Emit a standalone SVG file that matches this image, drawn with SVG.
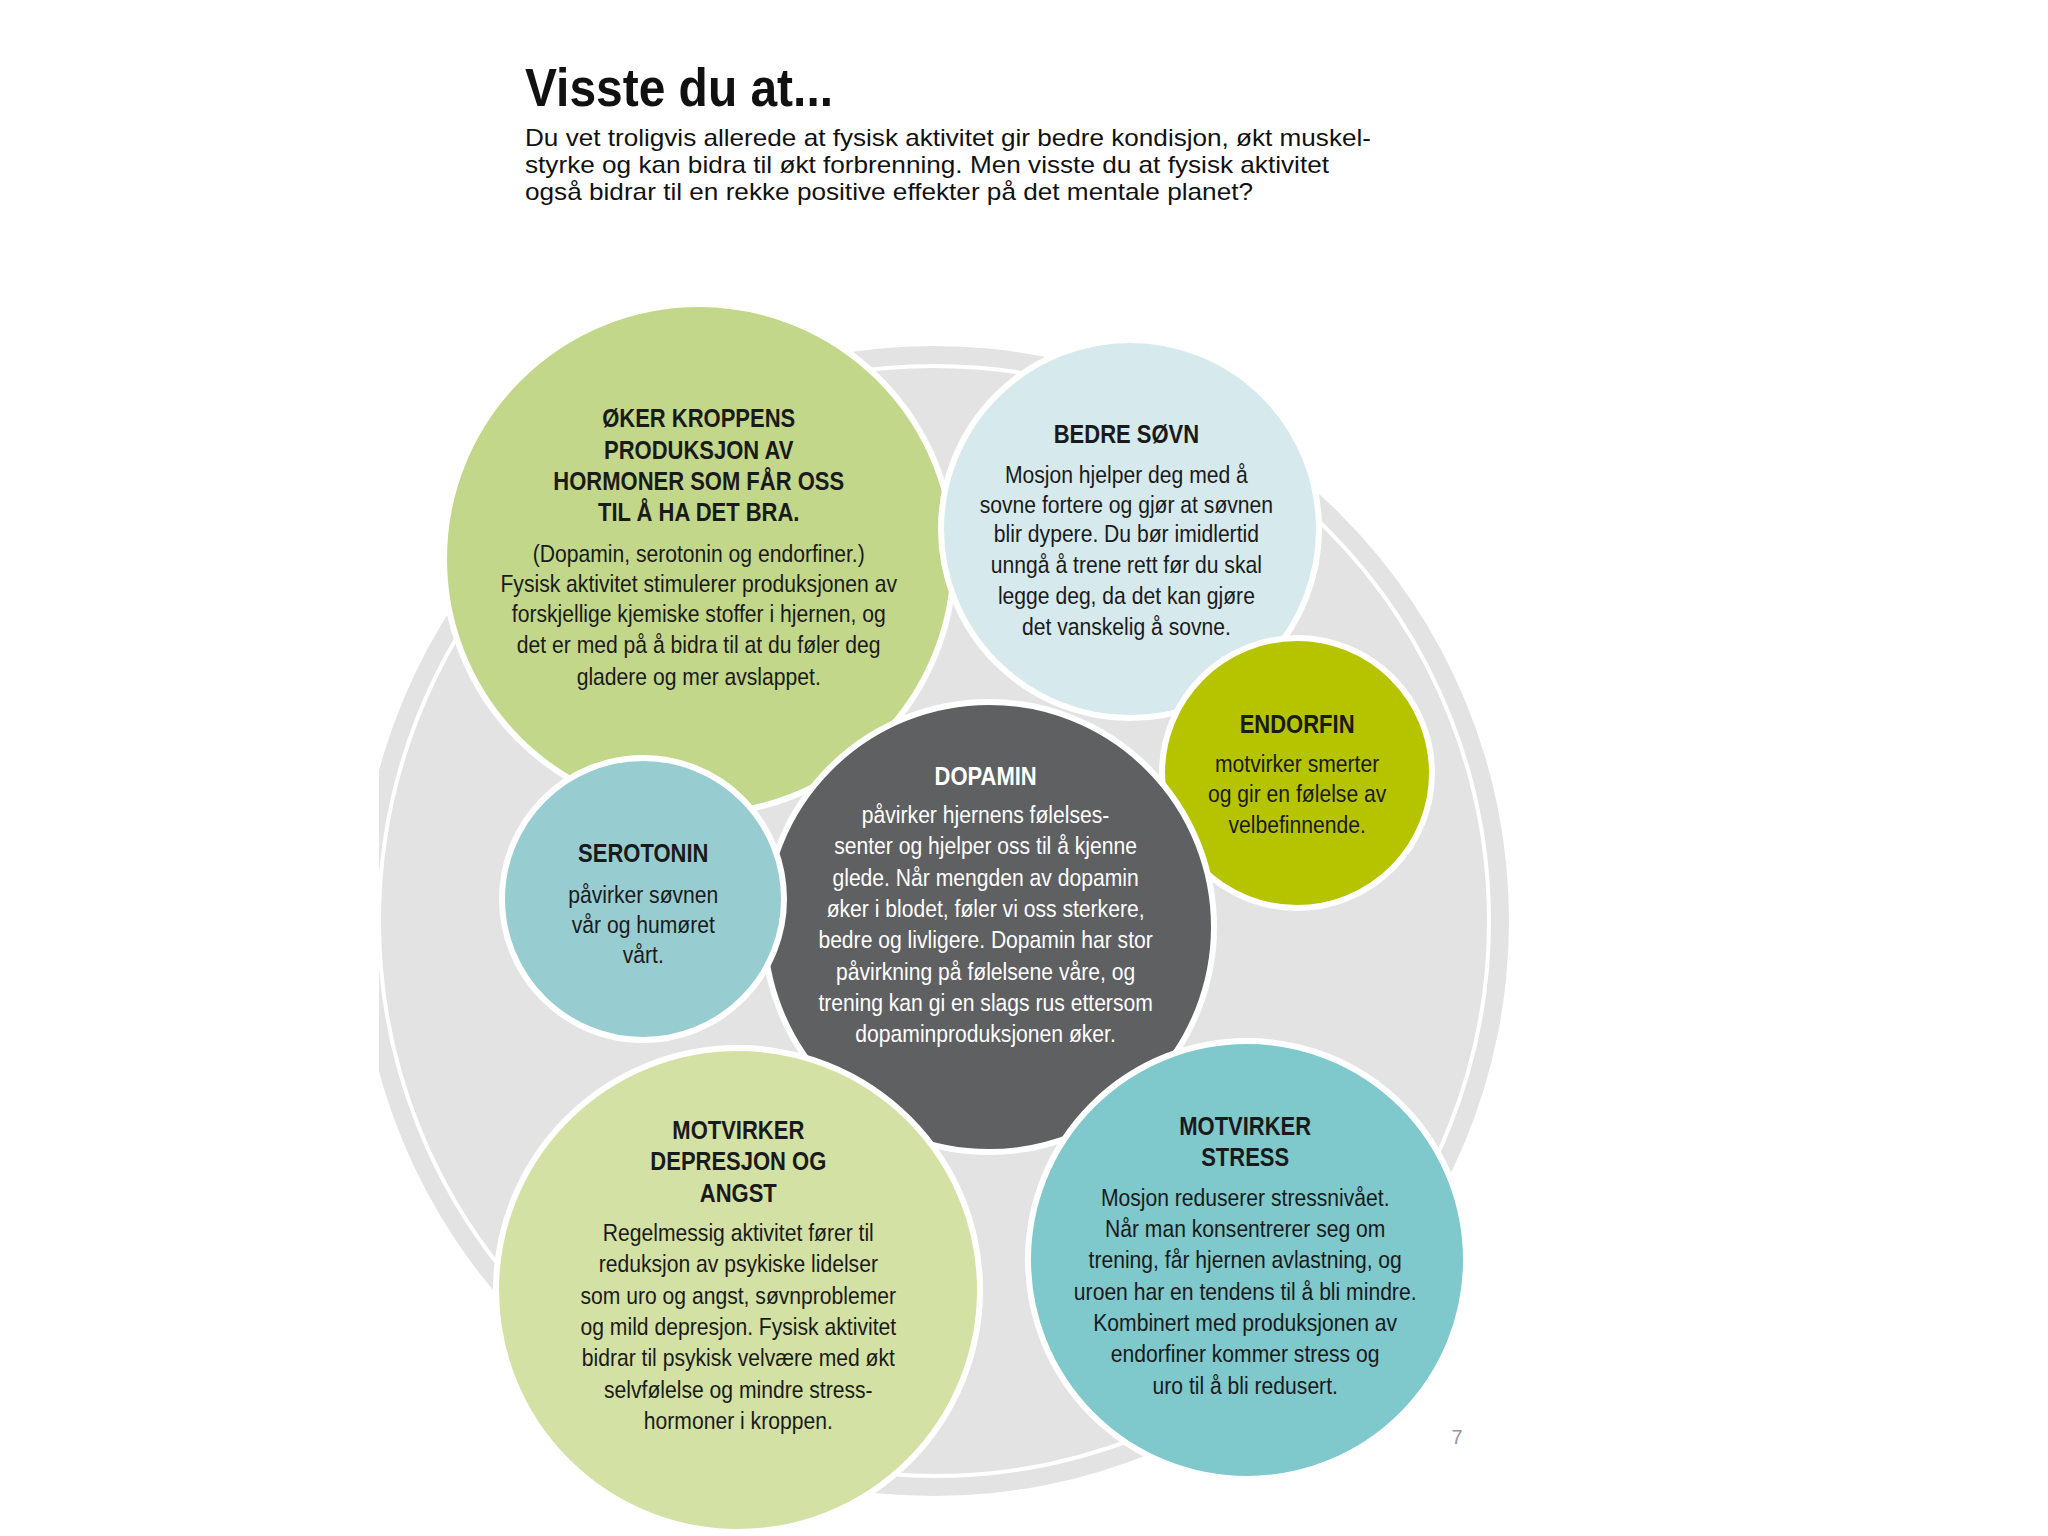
<svg xmlns="http://www.w3.org/2000/svg" width="2048" height="1536" viewBox="0 0 2048 1536">
<style>
.h{font-family:"Liberation Sans",Arial,sans-serif;font-weight:bold;font-size:25px;fill:#1a1a1a;text-anchor:middle}
.b{font-family:"Liberation Sans",Arial,sans-serif;font-size:24px;fill:#1a1a1a;text-anchor:middle}
.w{fill:#ffffff}
.c{stroke:#ffffff;stroke-width:6}
</style>
<defs><clipPath id="cp"><rect x="379" y="0" width="1669" height="1536"/></clipPath></defs>
<rect width="2048" height="1536" fill="#ffffff"/>
<text x="525" y="106" font-family="Liberation Sans,Arial,sans-serif" font-weight="bold" font-size="54" fill="#111" textLength="308" lengthAdjust="spacingAndGlyphs">Visste du at...</text>
<g font-family="Liberation Sans,Arial,sans-serif" font-size="24" fill="#111">
<text x="525" y="146" textLength="846" lengthAdjust="spacingAndGlyphs">Du vet troligvis allerede at fysisk aktivitet gir bedre kondisjon, økt muskel-</text>
<text x="525" y="173" textLength="804" lengthAdjust="spacingAndGlyphs">styrke og kan bidra til økt forbrenning. Men visste du at fysisk aktivitet</text>
<text x="525" y="200" textLength="728" lengthAdjust="spacingAndGlyphs">også bidrar til en rekke positive effekter på det mentale planet?</text>
</g>
<g id="background" clip-path="url(#cp)">
<circle cx="934" cy="921" r="575" fill="#e3e3e3"/>
<circle cx="934" cy="921" r="555" fill="none" stroke="#ffffff" stroke-width="4"/>
</g>
<g id="hormoner"><circle class="c" cx="699" cy="559" r="255" fill="#c3d78a"/>
<g transform="scale(0.88,1)">
<text class="h" x="794" y="427">ØKER KROPPENS</text><text class="h" x="794" y="459">PRODUKSJON AV</text><text class="h" x="794" y="490">HORMONER SOM FÅR OSS</text><text class="h" x="794" y="521">TIL Å HA DET BRA.</text>
<text class="b" x="794" y="562">(Dopamin, serotonin og  endorfiner.)</text><text class="b" x="794" y="592">Fysisk aktivitet stimulerer produksjonen av</text><text class="b" x="794" y="622">forskjellige kjemiske stoffer i hjernen, og</text><text class="b" x="794" y="653">det er med på å bidra til at du føler deg</text><text class="b" x="794" y="685">gladere og mer avslappet.</text></g></g>
<g id="sovn"><circle class="c" cx="1130" cy="529" r="189" fill="#d6e9ec"/>
<g transform="scale(0.88,1)">
<text class="h" x="1280" y="443">BEDRE SØVN</text>
<text class="b" x="1280" y="483">Mosjon hjelper deg med å</text><text class="b" x="1280" y="513">sovne fortere og gjør at søvnen</text><text class="b" x="1280" y="542">blir dypere. Du bør imidlertid</text><text class="b" x="1280" y="573">unngå å trene rett før du skal</text><text class="b" x="1280" y="604">legge deg, da det kan gjøre</text><text class="b" x="1280" y="635">det vanskelig å sovne.</text></g></g>
<g id="endorfin"><circle class="c" cx="1297" cy="773" r="135" fill="#b6c400"/>
<g transform="scale(0.88,1)">
<text class="h" x="1474" y="733">ENDORFIN</text>
<text class="b" x="1474" y="772">motvirker smerter</text><text class="b" x="1474" y="802">og gir en følelse av</text><text class="b" x="1474" y="833">velbefinnende.</text></g></g>
<g id="dopamin"><circle class="c" cx="989" cy="927" r="225" fill="#5f6061"/>
<g transform="scale(0.88,1)">
<text class="h w" x="1120" y="785">DOPAMIN</text>
<text class="b w" x="1120" y="823">påvirker hjernens følelses-</text><text class="b w" x="1120" y="854">senter og hjelper oss til å kjenne</text><text class="b w" x="1120" y="886">glede. Når mengden av dopamin</text><text class="b w" x="1120" y="917">øker i blodet, føler vi oss sterkere,</text><text class="b w" x="1120" y="948">bedre og livligere. Dopamin har stor</text><text class="b w" x="1120" y="980">påvirkning på følelsene våre, og</text><text class="b w" x="1120" y="1011">trening kan gi en slags rus ettersom</text><text class="b w" x="1120" y="1042">dopaminproduksjonen øker.</text></g></g>
<g id="serotonin"><circle class="c" cx="643" cy="899" r="141" fill="#97cdd0"/>
<g transform="scale(0.88,1)">
<text class="h" x="731" y="862">SEROTONIN</text>
<text class="b" x="731" y="903">påvirker søvnen</text><text class="b" x="731" y="933">vår og humøret</text><text class="b" x="731" y="963">vårt.</text></g></g>
<g id="depresjon"><circle class="c" cx="738" cy="1290" r="242" fill="#d4e1a5"/>
<g transform="scale(0.88,1)">
<text class="h" x="839" y="1139">MOTVIRKER</text><text class="h" x="839" y="1170">DEPRESJON OG</text><text class="h" x="839" y="1202">ANGST</text>
<text class="b" x="839" y="1241">Regelmessig aktivitet fører til</text><text class="b" x="839" y="1272">reduksjon av psykiske lidelser</text><text class="b" x="839" y="1304">som uro og angst, søvnproblemer</text><text class="b" x="839" y="1335">og mild depresjon. Fysisk aktivitet</text><text class="b" x="839" y="1366">bidrar til psykisk velvære med økt</text><text class="b" x="839" y="1398">selvfølelse og mindre stress-</text><text class="b" x="839" y="1429">hormoner i kroppen.</text></g></g>
<g id="stress"><circle class="c" cx="1247" cy="1260" r="219" fill="#7fc8cc"/>
<g transform="scale(0.88,1)">
<text class="h" x="1415" y="1135">MOTVIRKER</text><text class="h" x="1415" y="1166">STRESS</text>
<text class="b" x="1415" y="1206">Mosjon reduserer stressnivået.</text><text class="b" x="1415" y="1237">Når man konsentrerer seg om</text><text class="b" x="1415" y="1268">trening, får hjernen avlastning, og</text><text class="b" x="1415" y="1300">uroen har en tendens til å bli mindre.</text><text class="b" x="1415" y="1331">Kombinert med produksjonen av</text><text class="b" x="1415" y="1362">endorfiner kommer stress og</text><text class="b" x="1415" y="1394">uro til å bli redusert.</text></g></g>
<text x="1457" y="1444" font-family="Liberation Sans,Arial,sans-serif" font-size="20" fill="#999" text-anchor="middle">7</text>
</svg>
